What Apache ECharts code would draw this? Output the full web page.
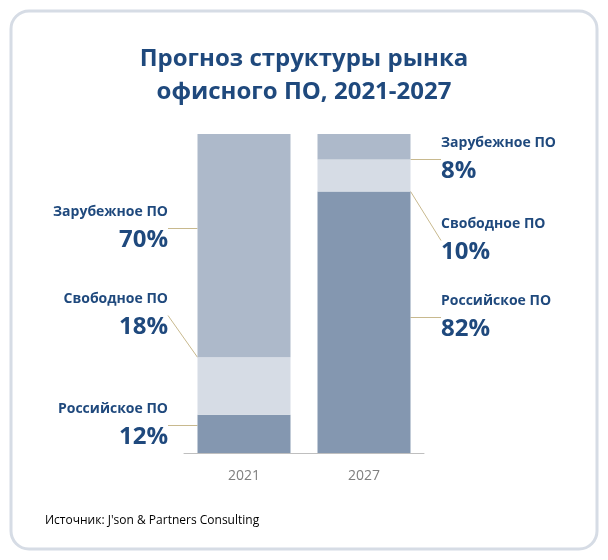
<!DOCTYPE html>
<html>
<head>
<meta charset="utf-8">
<script src="https://cdn.jsdelivr.net/npm/echarts@6/dist/echarts.min.js"></script>
<style>html,body{margin:0;padding:0;background:#fff}#main{width:608px;height:560px}</style>
</head>
<body>
<div id="main"></div>
<script>
var years = ['2021', '2027'];
var seriesNames = ['Российское ПО', 'Свободное ПО', 'Зарубежное ПО'];
var russian = [12, 82];
var free = [18, 10];
var foreign = [70, 8];
var colors = ['#8497b0', '#d6dce5', '#adb9ca'];

// label anchor positions: [2021, 2027] per series
var labelY = [[424, 316], [314, 239], [227, 158]];

var chart = echarts.init(document.getElementById('main'));
var font = '"Open Sans", "Noto Sans", sans-serif';

function makeSeries(name, data, idx) {
    return {
        name: name,
        type: 'bar',
        stack: 'all',
        barWidth: 93,
        data: data,
        itemStyle: { color: colors[idx] },
        label: {
            show: true,
            formatter: function (p) { return '{n|' + p.seriesName + '}\n{p|' + p.value + '%}'; },
            rich: {
                n: { fontSize: 14, fontWeight: 'bold', color: '#1f497d', fontFamily: font, lineHeight: 26 },
                p: { fontSize: 24, fontWeight: 'bold', color: '#1f497d', fontFamily: font, lineHeight: 30 }
            }
        },
        labelLine: { show: true, lineStyle: { color: '#c8b98e', width: 1 }, length2: 0 },
        labelLayout: function (params) {
            var left = params.dataIndex === 0;
            return {
                x: left ? 168 : 441,
                y: labelY[idx][params.dataIndex],
                align: left ? 'right' : 'left',
                verticalAlign: 'middle'
            };
        }
    };
}

chart.setOption({
    animation: false,
    title: {
        text: 'Прогноз структуры рынка\nофисного ПО, 2021-2027',
        left: 'center',
        top: 38,
        textStyle: { fontSize: 24, fontWeight: 'bold', color: '#1f497d', fontFamily: font, lineHeight: 33 }
    },
    graphic: [{
        type: 'rect',
        shape: { x: 11, y: 11, width: 586, height: 538, r: 18 },
        style: { fill: 'none', stroke: '#d6dce5', lineWidth: 3 }
    }, {
        type: 'text',
        left: 45,
        top: 515,
        style: { text: 'Источник: J\'son & Partners Consulting', fontSize: 12, fill: '#000', fontFamily: font }
    }],
    grid: { left: 184, width: 240, top: 134, bottom: 107 },
    xAxis: {
        type: 'category',
        data: years,
        axisTick: { show: false },
        axisLine: { lineStyle: { color: '#bfbfbf' } },
        axisLabel: { color: '#7f7f7f', fontSize: 14, margin: 16, fontFamily: font }
    },
    yAxis: { type: 'value', min: 0, max: 100, show: false },
    series: [
        makeSeries(seriesNames[0], russian, 0),
        makeSeries(seriesNames[1], free, 1),
        makeSeries(seriesNames[2], foreign, 2)
    ]
});
</script>
</body>
</html>
